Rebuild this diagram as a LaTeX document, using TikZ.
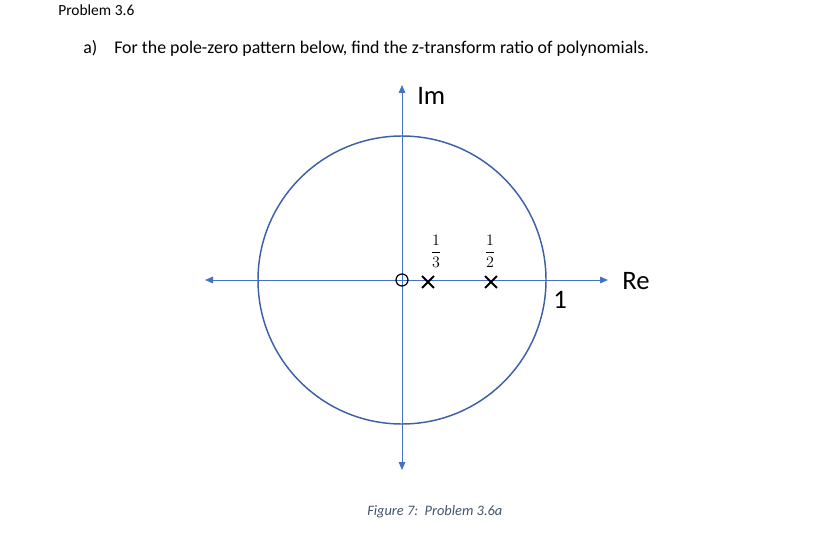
\documentclass[tikz,border=0pt]{standalone}
\usepackage{amsmath}
\usepackage{fontspec}
\setmainfont{Carlito}
\usetikzlibrary{arrows.meta,shapes.misc}
\definecolor{axisblue}{RGB}{68,114,196}
\definecolor{ringblue}{RGB}{62,96,166}
\definecolor{captiongray}{RGB}{68,84,106}
\tikzstyle{axis}=[draw,axisblue,line width=0.6pt]
\tikzstyle{ring}=[draw,ringblue,line width=1.1pt]
\tikzstyle{pole}=[cross out,draw,line width=1.4pt,minimum size=7.5pt,inner sep=0pt]
\tikzstyle{zero}=[circle,draw,line width=0.9pt,minimum size=9pt,inner sep=0pt]
\tikzstyle{axislabel}=[font=\fontsize{20}{24}\selectfont,anchor=base west,inner sep=0pt]
\tikzstyle{heading}=[font=\fontsize{11.6}{14}\selectfont,anchor=base west,inner sep=0pt]
\tikzstyle{ratio}=[font=\fontsize{12}{14}\selectfont,inner sep=0pt]

\begin{document}
\begin{tikzpicture}[x=0.75pt,y=-0.75pt,>={Triangle[length=6pt,width=5pt]}]
        \useasboundingbox (0,0) rectangle (813,538);
        \node[heading] (title) at (58, 16) {Problem 3.6};
        \node[heading,font=\fontsize{13.4}{16}\selectfont] (part) at (83, 54) {a)};
        \node[heading,font=\fontsize{13.4}{16}\selectfont] (task) at (114, 54) {For the pole-zero pattern below, find the z-transform ratio of polynomials.};
        \coordinate (o) at (402, 280);
        \coordinate (west) at (205, 280);
        \coordinate (east) at (608, 280);
        \coordinate (north) at (402, 85);
        \coordinate (south) at (402, 470);
        \path[axis,<->] (west) -- (east);
        \path[axis,<->] (north) -- (south);
        \path[ring] (o) circle[radius=144];
        \node[zero] (z0) at (o) {};
        \node[pole] (p1) at (428, 282) {};
        \node[pole] (p2) at (491, 282) {};
        \node[ratio] (r1) at (436, 251) {$\dfrac{1}{3}$};
        \node[ratio] (r2) at (490, 251) {$\dfrac{1}{2}$};
        \node[axislabel] (im) at (417, 105) {Im};
        \node[axislabel] (re) at (622, 289) {Re};
        \node[axislabel] (one) at (553, 308) {1};
        \node[heading,font=\fontsize{10.8}{13}\selectfont\itshape,text=captiongray] (caption) at (367, 515) {Figure 7:\ \ Problem 3.6a};
    \end{tikzpicture}
\end{document}
